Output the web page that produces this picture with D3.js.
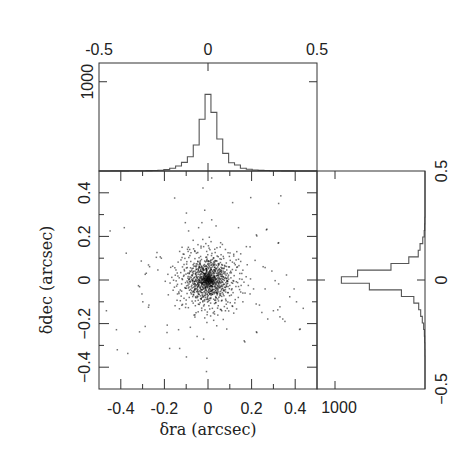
<!DOCTYPE html>
<html>
<head>
<meta charset="utf-8">
<script src="https://cdn.jsdelivr.net/npm/d3@7"></script>
<style>
  body { margin: 0; background: #fff; }
  svg text { font-family: "Liberation Sans", Arial, sans-serif; fill: #222; }
</style>
</head>
<body>
<svg id="chart" width="474" height="474"></svg>
<script>
// ── Data ──
// histogram bins are centred on k * binWidth
const raBinWidth = 1 / 37;
const raCounts = [0, 0, 1, 1, 1, 2, 2, 3, 4, 6, 9, 15, 30, 56, 97, 160, 291, 579,
  859, 657, 358, 198, 93, 67, 30, 20, 12, 7, 5, 3, 2, 1, 1, 0, 0, 0, 0];
const decBinWidth = 1 / 33;
const decCounts = [0, 0, 0, 0, 0, 1, 2, 4, 7, 15, 30, 48, 70, 124, 262, 618,
  929, 749, 378, 180, 75, 55, 25, 9, 4, 2, 0, 0, 0, 0, 0, 0, 0];

const majorTicks = [-0.4, -0.2, 0, 0.2, 0.4];
const minorTicks = [-0.3, -0.1, 0.1, 0.3];
const edgeLabels = [-0.5, 0, 0.5];
const countTick = 1000;

// offsets in milli-arcsec (ra, dec)
const corePts = "0,0 5,3 -4,6 8,-2 -7,-5 2,-9 -2,11 12,4 -11,2 6,10 -9,-10 10,-11 -13,8 15,-4 3,15 -5,-15 17,9 -16,-3 0,18 -1,-19 19,-8 -19,11 9,17 -8,18 14,-14 -14,-15 21,2 -22,-6 4,-22 -3,23 23,13 -24,4 11,-21 -12,22 25,-6 -25,-12 6,25 -7,-26 16,20 -18,19 20,-18 -20,-20 27,8 -28,1 1,28 -2,-29 29,-12 -29,15 13,27 -14,-27 30,4 -31,-7 5,-31 -6,31 24,22 -23,24 26,-20 -26,-22 33,-1 -33,5 2,33 -1,-34 18,-29 -17,30 31,16 -32,-15 10,34 -11,-33 35,9 -35,-10 21,-30 -22,31 3,2 -3,-1 1,-4 -2,3 7,-7 -6,8 9,5 -10,-3 4,9 -5,-8 13,-1 -12,-2 1,13 2,-13 11,11 -11,-12 12,-8 -13,13 16,2 -16,5 3,-16 -4,16 7,19 -8,-19 18,-10 -17,-11 20,12 -20,5 6,-4 -5,-2 2,7 -1,-7 10,1 -9,4 3,-11 -3,10 14,6 -14,-6 6,14 -7,-13 17,-5 -18,7 8,-17 -9,16 22,-11 -21,-13 -12,-21 12,21 24,1 -24,-2 1,-24 -2,25 27,16 -27,-17 17,-26 -16,27 30,-8 -30,9 -8,-30 9,30 32,10 -32,-11 11,-32 -10,33 34,-17 -34,18 18,34 -19,-33 36,2 -37,-3 3,37 -4,-36 4,-1 -1,5 -6,1 1,-6 7,3 -4,-4 3,-8 -8,-1 9,-5 -3,8 5,6 -7,3 11,-3 0,-11 -10,7 8,9 -12,-7 14,-9 -5,12 10,-14 -15,-1 13,10 -9,-14 0,15 16,-7 -17,9 7,-15 -10,14 18,3 -3,-18 -15,-10 12,15 19,-3 -20,0 2,20 6,-20 -13,17 17,-14 22,7 -21,-9 -6,22 26,-2 -27,6 -15,24 15,-25 28,12 -26,-14 10,-27 -11,28";
const innerPts = "45,10 -42,15 12,48 -10,-46 50,-20 -48,-22 30,40 -32,38 35,-38 -36,-35 55,5 -56,-3 4,57 -6,-55 60,25 -58,28 22,60 -24,-59 45,45 -44,47 46,-43 -47,-44 65,-8 -64,10 -9,66 8,-65 62,-30 -60,-32 28,-63 -30,64 70,15 -70,-14 16,70 -15,-72 52,52 -54,50 50,-55 -52,-53 75,-2 -74,3 1,76 -2,-75 68,-38 -66,40 38,68 -40,-66 78,28 -77,-30 30,79 -28,-80 60,58 -62,-57 58,-62 -58,64 84,6 -85,-8 -5,86 7,-84 80,-35 -79,38 36,-81 -37,82 72,52 -70,-55 55,-72 -54,74 90,-15 -91,16 14,92 -16,-90 88,30 -87,-32 33,89 -31,-88 66,68 -67,-66 70,-65 -68,70 95,4 -96,-5 2,-97 -4,96 42,20 -41,-21 21,-43 -19,44 48,33 -47,-31 -33,49 34,-50 57,-14 -55,16 -13,-58 15,56 63,17 -63,-18 18,-64 -17,62 40,-58 -39,60 61,44 -60,-45 43,-61 -45,-62 69,-22 -71,24 -23,-70 24,71 73,-45 -75,44 47,75 -46,-76 82,-12 -83,14 -11,83 13,-82 86,46 -85,-47 45,-87 -47,86 92,-30 -93,31 31,-93 -30,94 51,12 -49,8 9,-52 -8,51 44,-26 -45,26 27,46 -28,-46 59,38 -57,-40 -41,58 39,-59 67,2 -68,5 3,68 -4,-67 74,36 -73,-37 -36,75 35,-76 81,-55 -80,56 -56,-81 57,80 89,-2 -88,1 0,-89 1,88 41,-9 -40,-12 -11,-41 10,42 53,-33 -52,34 35,52 -34,-52 64,52 -65,-50 42,-5 -43,3 4,-43 -6,44 47,22 -46,-18 20,-47 -22,48 53,-8 -51,11 -9,53 11,-52 49,-36 -48,37 37,50 -37,-49 58,4 -59,-6 5,-58 -3,59 56,29 -55,-27 -28,56 30,-55 61,-12 -62,13 -12,62 14,-61 54,40 -53,-41 -41,54 41,-54 66,18 -66,-20 19,-66 -20,67 45,60 72,30 85,62 38,88 92,14 64,-40 77,8 26,83 -35,70 -72,-5 8,74 50,70";
const densePts = "13,-27 -38,9 27,33 -19,-41 44,-12 -7,52 61,-3 -29,-58 8,39 -53,21 36,-47 -16,71 49,27 -63,-9 21,-66 -44,43 72,-19 -3,-81 31,58 -77,12 55,-36 -24,36 17,-49 -61,-27 83,22 -35,-73 6,63 -48,-55 39,19 -12,-33 58,-52 -70,36 26,-88 -87,-18 47,68 -33,27 69,41 -9,49 14,-71 -52,-8 34,-21 -26,-44 77,-33 -41,69 3,-57 -68,54 51,6 -15,87 29,-31 -80,-43 63,71 -57,3 11,55 -37,-31 42,-68 -22,12 88,-6 -46,83 19,29 -31,-86 56,47 -74,-24 24,-15 -11,-63 71,13 -59,41 38,-82 -5,37 -84,6 46,-4 -20,-25 9,-40 66,-58 -39,-12 15,79 -66,-69 53,34 -28,61 33,-58 -49,-36 80,-45 -18,-54 5,26 -72,19 28,48 -43,-66 61,-24 -8,-89 41,87 -90,-37 18,-36 -55,60 74,55 -27,-16 50,-79 -62,-45 37,3 -34,44 12,-85 -79,-58 65,26 -14,28 22,-22 -47,-1 57,-69 -35,88 84,-27 -67,-33 45,39 -23,-77 7,-29 -56,26 31,72 -81,-5 68,-11 -42,-54 16,47 -30,-2 79,37 -13,-69 43,-40 -64,63 2,85 -50,-81 59,16 -25,51 26,-57 -75,-49 90,-58 -38,76 49,-16 -19,-11 14,66 -60,-16 35,-92 -86,29 76,67 -44,-25 23,40 -7,-47 62,-45 -53,48 10,-63 -32,14 87,8 -70,-76 52,-27 -16,-96 40,54 -93,-12 73,-72 -29,39 -2,-101 -45,-93 98,-40 -99,55 25,101 64,-93 -103,-38 101,33 23,-9 -17,19 31,-14 -26,-31 9,44 -40,2 47,-29 -13,-38 38,31 -46,-12 29,-43 -21,53 54,-9 -58,-19 16,-53 -34,57 63,34 -3,-64 24,67 -69,-3 71,-48 -49,73 12,88 -57,-77 86,-19 -83,41 48,-96 -98,-27 95,60 -6,105 30,-108 108,-12 -36,-104 -110,22 61,95";
const fillPts = "-41,-3 39,-15 -8,43 12,-45 28,29 -31,-27 33,-31 -27,35 46,4 -44,-8 3,-47 -5,46 19,41 -21,-40 40,-22 -38,24 49,-12 -50,14 -14,-50 15,49 34,38 -36,-37 37,-35 -33,40 43,23 -42,-25 24,-44 -23,45 52,-2 -53,0 0,-53 1,52 27,-2 -26,3 4,28 -3,-27 30,20 -29,-21 -20,30 21,-30 38,5 -39,-4 6,-38 -7,39 32,-26 -31,28 26,33 -25,-34 42,-33 -41,34 35,43 -34,-42 48,18 -47,-16 17,-48 -18,47 55,24 -54,-22 -23,55 22,-56 58,-30 -57,32 31,58 -32,-57 64,8 -63,-6 -7,63 9,-64 45,-49 -46,51 50,47 -48,-49 67,-28 -68,30 29,68 -27,-69 71,3 -72,-2 2,-71 -1,72 60,41 -61,-40 -40,61 42,-62 76,-20 -75,22 23,76 -21,-77 53,-64 -52,65 65,55 -66,-54 80,12 -81,-10 11,82 -12,-80 74,-50 -73,52 51,75 -50,-74 85,-30 -86,33 32,86 -34,-85 63,-75 -64,76 78,63 -76,-64 91,-6 -92,8 -6,91 7,-93 19,-5 -6,-20 -18,4 5,19 23,-17 -22,16 16,23 -17,-22 36,-10 -35,11 9,36 -11,-35 29,14 -28,-13 -13,29 14,-28 44,31 -45,-30 -30,-44 31,45 39,-41 -40,39";
const haloPts = "83,-95 -97,84 112,48 -121,-51 47,-118 -53,123 136,-12 -138,18 9,139 -14,-137 102,-104 -106,99 98,108 -101,-110 145,-44 -147,46 41,148 -45,-146 121,77 -123,-74 -78,125 75,-122 156,3 -158,-1 2,157 -4,-159 88,-130 -91,131 129,92 -127,-95 63,-141 -66,143 142,66 -140,-64 107,-69 -110,71 -68,-106 70,108 93,-58 -95,57 55,97 -58,-96 128,-30 -125,34 33,126 -29,-129 84,78 -86,-80 -79,85 81,-88 115,-3 -117,2 -1,116 4,-118 139,-80 -137,82 -84,140 80,-141 104,40 -100,-38 36,-103 -41,102 152,-25 -150,22 -20,153 24,-151 118,118 -120,-116 -114,119 113,-121 94,22 -92,-24 21,94 -23,-95 132,58 -134,-55 57,-135 -60,131 108,-45 -109,48 47,107 -44,-111 86,-5 -87,3 -2,-87 5,86 146,30 -144,-28 29,-145 -32,147 123,-105 -119,103 101,124 -103,-126 160,-60 -162,63 -64,-161 66,163";
const midPts = "105,10 -103,-12 -10,104 12,-106 110,-40 -108,42 42,110 -40,-112 98,60 -96,-62 -60,98 62,-96 120,20 -121,-18 18,122 -20,-119 115,-58 -117,60 60,116 -58,-118 102,90 -100,-92 -88,103 91,-101 130,-8 -132,10 -6,131 8,-133 128,45 -127,-46 44,-129 -47,126 112,82 -110,-84 -83,112 84,-111 140,-30 -141,32 31,141 -29,-140 135,60 -133,-62 -61,134 60,-136 145,5 -146,-4 5,146 -3,-147 125,-90 -124,92 92,125 -90,-127 155,30 -154,-33 -32,155 30,-156 150,-55 -152,56 56,151 -55,-150 118,110 -117,-112 -110,118 111,-119 165,-10 -166,12 -10,167 12,-165 160,45 -160,-47 45,-161 -46,162 140,95 -142,-93 -94,141 95,-142 175,15 -174,-14 14,176 -15,-174 170,-60 -171,58 -60,-170 58,171 132,130 -131,-132 -130,131 131,-133 185,-25 -184,26 -24,186 26,-185 180,70 -182,-68 70,-181 -68,182 150,120 -151,-118 -119,150 118,-152 195,5 -196,-6 6,196 -5,-195 100,-25 -101,27 -24,-100 26,101 107,33 -106,-35 -34,108 35,-105 113,-15 -112,17 16,112 -17,-113 99,-72 -98,73 72,99 -73,-97 118,-5 -119,6 125,70 80,140 150,85 -90,150 -140,-20 160,-100 -60,-160 20,-130";
const outerPts = "-153,376 -99,307 -384,240 -449,225 -104,263 -89,225 -375,123 -306,87 -273,69 -234,126 -219,106 -288,26 -230,46 -28,263 -43,240 -15,320 17,468 113,355 196,378 334,386 324,351 17,276 37,248 140,240 270,233 224,202 324,171 193,152 262,57 293,41 216,90 -23,422 360,23 406,-100 420,-227 330,-169 353,-190 307,-360 -7,-420 -99,-353 -176,-314 -130,-314 -368,-337 -416,-320 -314,-238 -420,-228 -466,-141 222,-238 169,-284 375,-77 437,-130 -268,61 -237,104 -314,-31 -283,31 -299,-100 -288,-213 -5,-359 -188,-241 -135,-228 -81,-217 -50,-259 -20,-271 -273,-125 -303,-64 -319,-26 308,-3 324,-18 395,-41 300,-141 320,-137 343,-179 423,-225 221,-110 236,-115 247,-149 274,-179 224,-241 166,-279 262,-41 209,-41 193,-64 86,-225 40,-210 -214,100 -271,-115 -187,-207 330,-123 268,230 222,207 176,153 253,61 322,169";

const parsePts = (s) =>
  s.split(" ").map((p) => {
    const [a, b] = p.split(",").map(Number);
    return { ra: a / 1000, dec: b / 1000 };
  });
const points = [corePts, innerPts, densePts, fillPts, haloPts, midPts, outerPts].flatMap(parsePts);

// ── Layout ──
const svg = d3.select("#chart");
const INK = "#333";
const HIST = "#555";

const x = d3.scaleLinear().domain([-0.5, 0.5]).range([99, 317]);
const y = d3.scaleLinear().domain([-0.5, 0.5]).range([389, 171]);
const hTop = d3.scaleLinear().domain([0, 1210]).range([171, 63]);
const hRight = d3.scaleLinear().domain([0, 1200]).range([425, 317]);

function tick(g, x1, y1, x2, y2) {
  g.append("line")
    .attr("x1", x1).attr("y1", y1).attr("x2", x2).attr("y2", y2)
    .attr("stroke", INK).attr("stroke-width", 1);
}

function label(txt, px, py, rot, size) {
  svg.append("text")
    .attr("transform", `translate(${px},${py}) rotate(${rot || 0})`)
    .attr("text-anchor", "middle")
    .attr("dominant-baseline", "central")
    .attr("font-size", size || 16)
    .text(txt);
}

// ── Scatter ──
svg.append("g")
  .selectAll("rect")
  .data(points)
  .join("rect")
  .attr("x", (d) => x(d.ra) - 0.75)
  .attr("y", (d) => y(d.dec) - 0.75)
  .attr("width", 1.5)
  .attr("height", 1.5)
  .attr("fill", "#000")
  .attr("fill-opacity", 0.55);

// ── Histogram steps ──
function stepPoints(counts, width) {
  const half = (counts.length - 1) / 2;
  const pts = [];
  counts.forEach((v, i) => {
    const c = (i - half) * width;
    pts.push([c - width / 2, v], [c + width / 2, v]);
  });
  return pts;
}

svg.append("path")
  .datum(stepPoints(raCounts, raBinWidth))
  .attr("d", d3.line().x((d) => x(d[0])).y((d) => hTop(d[1])))
  .attr("fill", "none")
  .attr("stroke", HIST)
  .attr("stroke-width", 1.1);

svg.append("path")
  .datum(stepPoints(decCounts, decBinWidth))
  .attr("d", d3.line().x((d) => hRight(d[1])).y((d) => y(d[0])))
  .attr("fill", "none")
  .attr("stroke", HIST)
  .attr("stroke-width", 1.1);

// ── Frames ──
const frames = svg.append("g").attr("fill", "none").attr("stroke", INK).attr("stroke-width", 1);
frames.append("rect").attr("x", x(-0.5)).attr("y", y(0.5)).attr("width", x(0.5) - x(-0.5)).attr("height", y(-0.5) - y(0.5));
frames.append("rect").attr("x", x(-0.5)).attr("y", hTop(1210)).attr("width", x(0.5) - x(-0.5)).attr("height", hTop(0) - hTop(1210));
frames.append("rect").attr("x", hRight(1200)).attr("y", y(0.5)).attr("width", hRight(0) - hRight(1200)).attr("height", y(-0.5) - y(0.5));

// ── Ticks ──
const tg = svg.append("g");
const yTop = y(0.5), yBot = y(-0.5), xL = x(-0.5), xR = x(0.5);
majorTicks.forEach((v) => {
  tick(tg, x(v), yBot, x(v), yBot - 10);
  tick(tg, x(v), yTop, x(v), yTop + 10);
  tick(tg, xL, y(v), xL + 10, y(v));
  tick(tg, xR, y(v), xR - 10, y(v));
});
minorTicks.forEach((v) => {
  tick(tg, x(v), yBot, x(v), yBot - 5);
  tick(tg, x(v), yTop, x(v), yTop + 5);
  tick(tg, xL, y(v), xL + 5, y(v));
  tick(tg, xR, y(v), xR - 5, y(v));
});
// top histogram
tick(tg, x(0), hTop(0), x(0), hTop(0) - 8);
tick(tg, x(0), hTop(1210), x(0), hTop(1210) + 8);
tick(tg, xL, hTop(countTick), xL + 8, hTop(countTick));
tick(tg, xR, hTop(countTick), xR - 8, hTop(countTick));
// right histogram
tick(tg, hRight(0), y(0), hRight(0) - 8, y(0));
tick(tg, hRight(1200), y(0), hRight(1200) + 8, y(0));
tick(tg, hRight(countTick), yTop, hRight(countTick), yTop + 8);
tick(tg, hRight(countTick), yBot, hRight(countTick), yBot - 8);

// ── Labels ──
const fmtH = (v) => (v === 0 ? "0" : String(v));
const fmtV = (v) => (v === 0 ? "0" : String(v).replace("-", "\u2212"));

majorTicks.forEach((v) => {
  label(fmtH(v), x(v), 408);
  label(fmtV(v), 84, y(v), -90);
});
edgeLabels.forEach((v) => {
  label(fmtH(v), x(v), 49);
  label(fmtV(v), 441, y(v), -90);
});
label(String(countTick), 87, hTop(countTick), -90);
label(String(countTick), hRight(countTick) + 4, 407);

svg.append("text")
  .attr("x", x(0)).attr("y", 429)
  .attr("text-anchor", "middle").attr("dominant-baseline", "central")
  .style("font-family", "'DejaVu Serif', serif").attr("font-size", 16)
  .text("\u03b4ra (arcsec)");
svg.append("text")
  .attr("transform", `translate(46,${y(0)}) rotate(-90)`)
  .attr("text-anchor", "middle").attr("dominant-baseline", "central")
  .style("font-family", "'DejaVu Serif', serif").attr("font-size", 16)
  .text("\u03b4dec (arcsec)");
</script>
</body>
</html>
